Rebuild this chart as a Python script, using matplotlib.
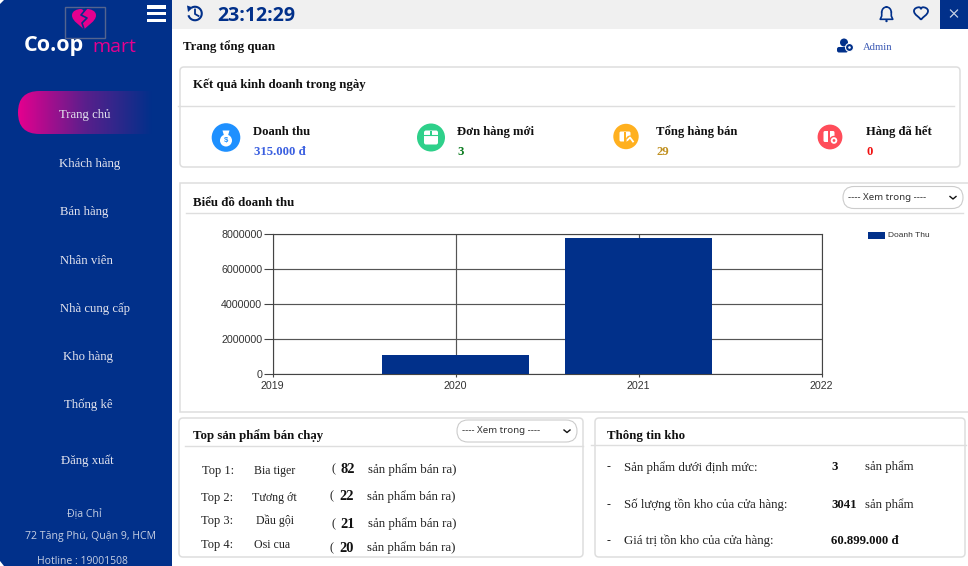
import numpy as np
import matplotlib
matplotlib.use("Agg")
import matplotlib.pyplot as plt
from matplotlib.patches import Rectangle, FancyBboxPatch, Circle, Polygon, Arc, PathPatch
from matplotlib.path import Path
from matplotlib.colors import LinearSegmentedColormap

# ---- data ----
years = [2020, 2021]
revenue = [1080000, 7750000]
y_ticks = [0, 2000000, 4000000, 6000000, 8000000]
x_ticks = [2019, 2020, 2021, 2022]
series_name = "Doanh Thu"
menu_items = ["Trang chủ", "Khách hàng", "Bán hàng", "Nhân viên", "Nhà cung cấp", "Kho hàng", "Thống kê", "Đăng xuất"]
kpi_titles = ["Doanh thu", "Đơn hàng mới", "Tổng hàng bán", "Hàng đã hết"]
kpi_values = ["315.000 đ", "3", "29", "0"]
top_names = ["Bia tiger", "Tương ớt", "Dầu gội", "Osi cua"]
top_values = [82, 22, 21, 20]
stock_labels = ["Sản phẩm dưới định mức:", "Số lượng tồn kho của cửa hàng:", "Giá trị tồn kho của cửa hàng:"]
stock_values = ["3", "3041", "60.899.000 đ"]

NAVY = "#01308a"
PINK = "#e5008f"
SERIF = "Liberation Serif"
SANS = "Open Sans"
ARIAL = "Liberation Sans"
INK = "#111111"
EDGE = "#dedede"

fig = plt.figure(figsize=(9.68, 5.66), dpi=100, facecolor="white")
ui = fig.add_axes([0, 0, 1, 1])
ui.set_xlim(0, 968); ui.set_ylim(566, 0); ui.axis("off")


def T(x, y, s, size=8.5, color=INK, weight="normal", family=SERIF, ha="left", z=6):
    return ui.text(x, y + 1, s, fontsize=size, color=color, fontweight=weight, family=family,
                   ha=ha, va="center", zorder=z)


def card(x0, y0, x1, y1):
    ui.add_patch(FancyBboxPatch((x0 + 3, y0 + 3), x1 - x0 - 6, y1 - y0 - 6,
                                boxstyle="round,pad=3,rounding_size=4", fc="white", ec=EDGE, lw=1.1, zorder=1))


def hline(x0, x1, y):
    ui.plot([x0, x1], [y, y], color=EDGE, lw=1.0, zorder=2)


def heart(cx, cy, w, h, **kw):
    # heart outline scaled into a w x h box, y pointing down
    pts = [(0, 0.5), (-0.12, 0.28), (-0.5, 0.1), (-0.5, -0.2), (-0.5, -0.42), (-0.27, -0.5), (-0.14, -0.5),
           (-0.06, -0.5), (0, -0.42), (0, -0.34), (0, -0.42), (0.06, -0.5), (0.14, -0.5),
           (0.27, -0.5), (0.5, -0.42), (0.5, -0.2), (0.5, 0.1), (0.12, 0.28), (0, 0.5)]
    codes = [Path.MOVETO] + [Path.CURVE4] * 18
    verts = [(cx + x * w, cy + y * h) for x, y in pts]
    ui.add_patch(PathPatch(Path(verts, codes), **kw))


# ---- sidebar ----
ui.add_patch(Rectangle((0, 0), 172, 566, fc=NAVY, ec="none", zorder=1))
ui.add_patch(Polygon([(0, 0), (4, 0), (0, 4)], fc="white", ec="none", zorder=2))
ui.add_patch(Polygon([(0, 566), (4, 566), (0, 561)], fc="white", ec="none", zorder=2))
ui.add_patch(Rectangle((172, 0), 796, 29, fc="#f0f0f0", ec="none", zorder=1))
ui.add_patch(Rectangle((940, 0), 28, 29, fc=NAVY, ec="none", zorder=2))
ui.plot([950.5, 957.5], [10, 17], color="#c8d2e6", lw=0.9, zorder=5)
ui.plot([950.5, 957.5], [17, 10], color="#c8d2e6", lw=0.9, zorder=5)

# logo
ui.add_patch(Rectangle((64.5, 6.5), 40, 31, fc="none", ec="#54648f", lw=1, zorder=2))
heart(84, 19.5, 24, 21, fc=PINK, ec="none", zorder=5)
ui.plot([86, 81, 87, 82, 84], [9, 15, 18, 23, 29], color=NAVY, lw=1.2, zorder=7)
T(24, 45, "Co.op", 15.5, "white", "bold", SANS)
T(92, 46.5, "mart", 14, PINK, "normal", SANS)
for yy in (6.8, 13.5, 20.2):
    ui.add_patch(Rectangle((147, yy - 1.7), 18.5, 3.4, fc="white", ec="none", zorder=3))

# active menu pill with gradient
cmap = LinearSegmentedColormap.from_list("pill", [PINK, "#5a1f8c", NAVY])
grad = ui.imshow(np.linspace(0, 1, 256).reshape(1, -1), extent=(18, 152, 134, 91), cmap=cmap,
                 aspect="auto", zorder=2)
pill = FancyBboxPatch((18 + 21.5, 91 + 21.5), 140, 0.01, boxstyle="round,pad=21.5,rounding_size=21.5",
                      fc="none", ec="none", transform=ui.transData)
ui.add_patch(pill)
grad.set_clip_path(pill)
ui.set_xlim(0, 968); ui.set_ylim(566, 0)

menu_pos = [(85, 114), (89.5, 163), (84, 211), (86, 260), (95.5, 308), (88, 356), (88, 404), (87, 460)]
for (mx, my), name in zip(menu_pos, menu_items):
    T(mx, my, name, 9.2, "#e4e4ee", ha="center")
T(84, 514, "Địa Chỉ", 7.6, "#c6cfe3", family=SANS, ha="center")
T(90.5, 536, "72 Tăng Phú, Quận 9, HCM", 7.6, "#c6cfe3", family=SANS, ha="center")
T(82, 560.5, "Hotline : 19001508", 7.5, "#c6cfe3", family=SANS, ha="center")

# ---- top bar ----
ui.add_patch(Arc((195, 13.5), 13.5, 13.5, theta1=-120, theta2=165, ec=NAVY, lw=1.5, zorder=5))
ui.add_patch(Polygon([(187, 5.5), (193, 7.5), (188, 12)], fc=NAVY, ec="none", zorder=5))
ui.plot([195, 195, 198.5], [9.5, 14, 16], color=NAVY, lw=1.3, zorder=5)
T(217, 15.3, "23:12:29", 14, NAVY, "bold", SANS)
# bell
ui.add_patch(Arc((886.5, 12.5), 9.6, 11, theta1=180, theta2=360, ec=NAVY, lw=1.2, zorder=5))
ui.plot([881.7, 881.7, 880.2, 892.8, 891.3, 891.3], [12.5, 16, 19.3, 19.3, 16, 12.5], color=NAVY, lw=1.2, zorder=5)
ui.add_patch(Circle((886.5, 21), 1.2, fc=NAVY, ec="none", zorder=5))
ui.add_patch(Circle((886.5, 7), 1, fc=NAVY, ec="none", zorder=5))
heart(921, 13.5, 14, 12.5, fc="none", ec=NAVY, lw=1.3, zorder=5)

T(183, 46, "Trang tổng quan", 9.3, INK, "bold")
# admin icon
ui.add_patch(Circle((844, 42.5), 4, fc=NAVY, ec="none", zorder=5))
ui.add_patch(FancyBboxPatch((838.5, 48.5), 8, 2.5, boxstyle="round,pad=1.5,rounding_size=2", fc=NAVY, ec="none", zorder=5))
ui.add_patch(Circle((849.5, 47.5), 4, fc=NAVY, ec="white", lw=0.8, zorder=6))
ui.add_patch(Circle((849.5, 47.5), 1.3, fc="white", ec="none", zorder=7))
T(863, 47, "Admin", 7.7, "#3d5bb5")

# ---- KPI card ----
card(180, 67, 960, 167)
hline(178, 954, 105.5)
T(193, 83.5, "Kết quả kinh doanh trong ngày", 9.3, INK, "bold")

kpi_colors = ["#1e90ff", "#2ed08a", "#ffb01f", "#ff4d5a"]
kpi_val_colors = ["#3a5fe0", "#0a7a1e", "#c09020", "#f01010"]
kpi_icon_c = [(226, 137.5, 14.3), (431, 137.5, 14), (626, 136.5, 12.7), (830, 137, 12.4)]
kpi_text_x = [253, 457, 656, 866]
for (ix, iy, r), tx, title, val, c, vc in zip(kpi_icon_c, kpi_text_x, kpi_titles, kpi_values, kpi_colors, kpi_val_colors):
    ui.add_patch(Circle((ix, iy), r, fc=c, ec="none", zorder=3))
    T(tx, 131, title, 9.1, INK, "bold")
    T(tx + 0.5, 151, val, 9.2, vc, "bold")

# money bag
ix, iy = kpi_icon_c[0][:2]
ui.add_patch(Circle((ix, iy + 3), 6, fc="white", ec="none", zorder=4))
ui.add_patch(Polygon([(ix - 3.5, iy - 7), (ix + 3.5, iy - 7), (ix + 2, iy - 2), (ix - 2, iy - 2)], fc="white", ec="none", zorder=4))
T(ix, iy + 2, "$", 5.5, kpi_colors[0], "bold", ARIAL, ha="center")
# box
ix, iy = kpi_icon_c[1][:2]
ui.add_patch(FancyBboxPatch((ix - 7, iy - 7), 14, 14, boxstyle="round,pad=0,rounding_size=2", fc="white", ec="none", zorder=4))
ui.add_patch(Rectangle((ix - 1.2, iy - 7), 2.4, 5, fc=kpi_colors[1], ec="none", zorder=5))
ui.plot([ix - 7, ix + 7], [iy - 2.5, iy - 2.5], color=kpi_colors[1], lw=0.8, zorder=5)
# returned-goods box
ix, iy = kpi_icon_c[2][:2]
ui.add_patch(FancyBboxPatch((ix - 6.5, iy - 5), 11, 10, boxstyle="round,pad=0,rounding_size=1.5", fc="white", ec="none", zorder=4))
ui.add_patch(Rectangle((ix - 1.8, iy - 5), 1.6, 10, fc=kpi_colors[2], ec="none", zorder=5))
ui.add_patch(Circle((ix + 4, iy + 3), 4, fc=kpi_colors[2], ec="none", zorder=5))
ui.plot([ix + 1.5, ix + 4, ix + 7], [iy + 3.5, iy + 1, iy + 5], color="white", lw=1.3, zorder=6)
# out-of-stock box
ix, iy = kpi_icon_c[3][:2]
ui.add_patch(FancyBboxPatch((ix - 6.5, iy - 6), 11, 11, boxstyle="round,pad=0,rounding_size=1.5", fc="white", ec="none", zorder=4))
ui.add_patch(Rectangle((ix - 1.8, iy - 6), 1.6, 11, fc=kpi_colors[3], ec="none", zorder=5))
ui.add_patch(Circle((ix + 4, iy + 3.5), 4, fc="white", ec=kpi_colors[3], lw=1, zorder=5))
ui.add_patch(Circle((ix + 4, iy + 3.5), 1.4, fc=kpi_colors[3], ec="none", zorder=6))

# ---- revenue card ----
ui.add_patch(Rectangle((180, 183), 800, 229, fc="white", ec=EDGE, lw=1.1, zorder=1))
hline(186, 963, 212.5)
T(193, 202, "Biểu đồ doanh thu", 9.3, INK, "bold")


def select(x0, x1, yc, h=22):
    ui.add_patch(FancyBboxPatch((x0 + h / 2, yc), x1 - x0 - h, 0.01,
                                boxstyle=f"round,pad={h/2},rounding_size={h/2}", fc="white", ec="#cccccc", lw=0.8, zorder=3))
    T(x0 + 5, yc - 1.5, "---- Xem trong ----", 7, "#333333", family="Noto Sans")
    ui.plot([x1 - 13, x1 - 10, x1 - 7], [yc - 1, yc + 1.5, yc - 1], color="#111111", lw=1.0, zorder=5)


select(843, 963, 197.5)
ui.add_patch(Rectangle((868, 232), 17, 7, fc=NAVY, ec="none", zorder=3))
T(888, 234.5, series_name, 6, "#333333", family=ARIAL)

# ---- bottom cards ----
card(179, 418, 583, 557)
hline(185, 583, 446)
T(193, 435, "Top sản phẩm bán chạy", 9.3, INK, "bold")
select(457, 577, 431)

rows = [(470, 468.5), (497, 495.5), (520, 523), (544, 547)]
name_x = [254, 252.5, 256, 253.5]
label_x = [202, 201, 201, 201]
num_x = [348, 347, 348, 347]
for i, (ly, ry) in enumerate(rows):
    T(label_x[i], ly, f"Top {i + 1}:", 9, "#222222")
    T(name_x[i], ly, top_names[i], 8.6, "#222222")
    T(num_x[i] - 17, ry, "(", 9, "#222222")
    T(num_x[i], ry, str(top_values[i]), 10.4, INK, "bold", ha="center")
    T(num_x[i] + 20, ry, "sản phẩm bán ra)", 9.3, "#222222")

card(595, 418, 965, 557)
hline(591, 966, 445)
T(607, 435, "Thông tin kho", 9.3, INK, "bold")
stock_y = [466.5, 504, 540]
for y, lab, val in zip(stock_y, stock_labels, stock_values):
    T(607, y, "-", 8.5, "#222222")
    T(624, y, lab, 9.3, "#222222")
    T(831, y, val, 9.2, INK, "bold")
T(865, 466, "sản phẩm", 9.2, "#222222")
T(865, 503.5, "sản phẩm", 9.2, "#222222")

# ---- chart ----
W, H = 968.0, 566.0
ax = fig.add_axes([272.5 / W, 1 - 374 / H, (821.5 - 272.5) / W, (374 - 234) / H], facecolor="none", zorder=5)
ax.bar(years, revenue, width=0.8, color=NAVY, zorder=3, linewidth=0)
ax.set_xlim(2019, 2022)
ax.set_ylim(0, 8000000)
ax.set_xticks(x_ticks)
ax.set_yticks(y_ticks)
ax.set_xticklabels([str(v) for v in x_ticks])
ax.set_yticklabels([str(v) for v in y_ticks])
ax.grid(True, color="#555555", lw=0.85, zorder=1)
ax.set_axisbelow(True)
for s in ax.spines.values():
    s.set_color("#444444"); s.set_linewidth(0.8)
ax.tick_params(axis="both", length=6.5, width=0.8, color="#444444", labelsize=7.7, labelcolor="#333333", pad=0.8)
ax.tick_params(axis="x", length=2, pad=3)
for lab in ax.get_xticklabels() + ax.get_yticklabels():
    lab.set_family(ARIAL)

fig.savefig("out.png", dpi=100)
